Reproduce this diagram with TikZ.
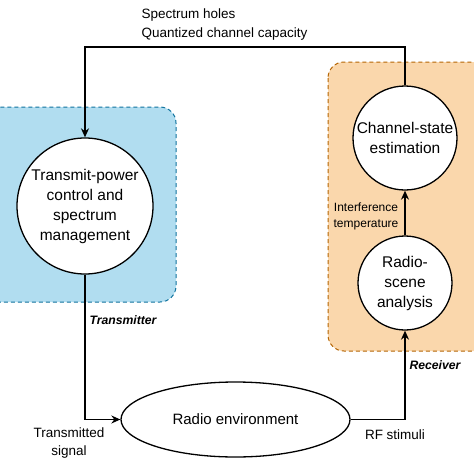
\documentclass[tikz,border=0pt]{standalone}
\usepackage{fontspec}
\setmainfont{Liberation Sans}
\usepackage{tikz}
\usetikzlibrary{arrows.meta,shapes.geometric}
\definecolor{txfill}{HTML}{B1DDF0}
\definecolor{txline}{HTML}{10739E}
\definecolor{rxfill}{HTML}{FAD7AC}
\definecolor{rxline}{HTML}{B46504}

\begin{document}
\begin{tikzpicture}[x=1pt,y=-1pt,line width=1.3pt,-{Stealth[length=9pt,width=8pt]}]
    \tikzstyle{block}=[circle,draw,fill=white,align=center,inner sep=0pt,font=\fontsize{15.5}{20}\selectfont]
    \tikzstyle{zone}=[rounded corners=16pt,line width=1pt,dash pattern=on 4pt off 3pt]
    \tikzstyle{lbl}=[align=center,inner sep=0pt,font=\fontsize{13.5}{18.5}\selectfont]
    \tikzstyle{side}=[inner sep=0pt,font=\fontsize{12.2}{14}\selectfont\bfseries\itshape]
    \clip (0,0) rectangle (474,474);
    \useasboundingbox (0,0) rectangle (474,474);
    % transmitter and receiver areas
    \draw[zone,-,draw=txline,fill=txfill] (-20,107) rectangle (176,302);
    \draw[zone,-,draw=rxline,fill=rxfill] (328,62) rectangle (500,351);
    % blocks
    \node[block,minimum size=136pt] (Tx) at (85,206) {Transmit-power\\control and\\spectrum\\management};
    \node[block,minimum size=104pt] (CSE) at (405,138) {Channel-state\\estimation};
    \node[block,minimum size=94pt] (RSA) at (405,283) {Radio-\\scene\\analysis};
    \node[ellipse,draw,fill=white,minimum width=229pt,minimum height=75pt,inner sep=0pt,font=\fontsize{15}{18}\selectfont] (Env) at (235.5,419.5) {Radio environment};
    \coordinate (Top) at (245,47);
    % connectors
    \draw (CSE.north) |- (Top) -| (Tx.north);
    \draw (Tx.south) |- (Env.west);
    \draw (Env.east) -| (RSA.south);
    \draw (RSA.north) -- (CSE.south);
    % labels
    \node[lbl,anchor=west,align=left] (Holes) at (141,24.5) {Spectrum holes\\Quantized channel capacity};
    \node[lbl,font=\fontsize{12}{16}\selectfont] (Temp) at (366,216) {Interference\\temperature};
    \node[lbl] (Sig) at (69,443) {Transmitted\\signal};
    \node[lbl] (RF) at (395,435) {RF stimuli};
    \node[side] (TxName) at (123,320) {Transmitter};
    \node[side] (RxName) at (435,365) {Receiver};
\end{tikzpicture}
\end{document}
